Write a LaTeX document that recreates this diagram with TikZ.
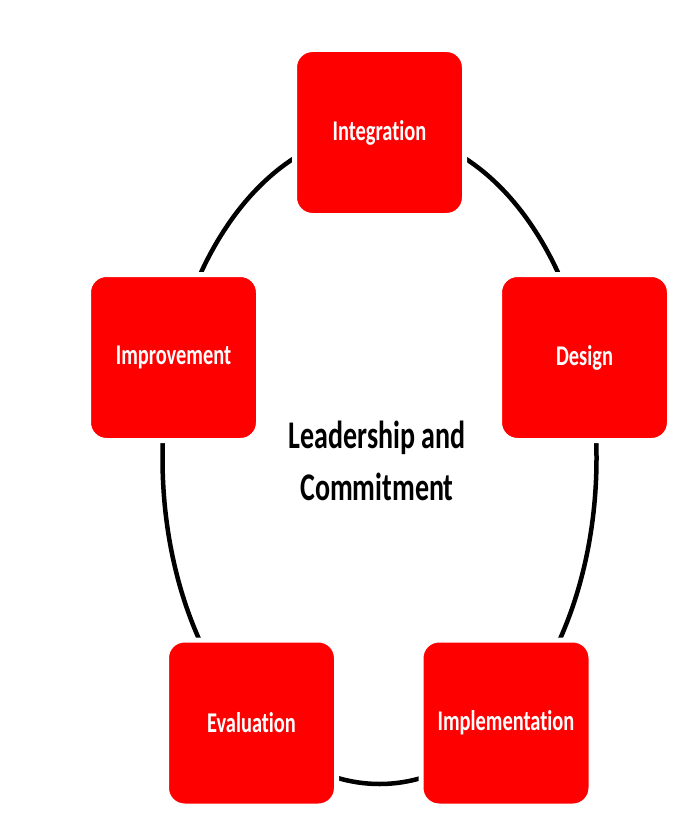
\documentclass[tikz,border=0pt]{standalone}
\usepackage{fontspec}
\setmainfont{Carlito}[Ligatures=NoCommon]
\usepackage{graphicx}
\tikzset{
  stagebox/.style={fill=red, draw=white, line width=5pt, rounded corners=18pt,
    minimum width=170pt, minimum height=166pt, inner sep=0pt, text=white,
    font=\fontsize{20.4}{24}\selectfont\bfseries},
  ring/.style={draw=black, line width=4.5pt},
  centertext/.style={align=center, text=black, inner sep=0pt,
    font=\fontsize{28}{37}\selectfont\bfseries}
}
\newcommand{\vstr}[1]{\scalebox{1}[1.4]{#1}}
\begin{document}
\begin{tikzpicture}[x=1pt,y=-1pt]
\useasboundingbox (0,0) rectangle (674,821);
\fill[white] (0,0) rectangle (674,821);
\draw[ring] (379.5,458) ellipse [x radius=217pt, y radius=326pt];
\node[stagebox] (integ) at (379.5,132.5) {\vstr{Integration}};
\node[stagebox] (design) at (584.5,357.5) {\vstr{Design}};
\node[stagebox] (impl) at (506,723) {\vstr{Implementation}};
\node[stagebox] (eval) at (251.5,723) {\vstr{Evaluation}};
\node[stagebox] (impr) at (173.5,357.5) {\vstr{Improvement}};
\node[centertext] (lead) at (377,464) {\vstr{\begin{tabular}{@{}c@{}}Leadership and\\Commitment\end{tabular}}};
\end{tikzpicture}
\end{document}
